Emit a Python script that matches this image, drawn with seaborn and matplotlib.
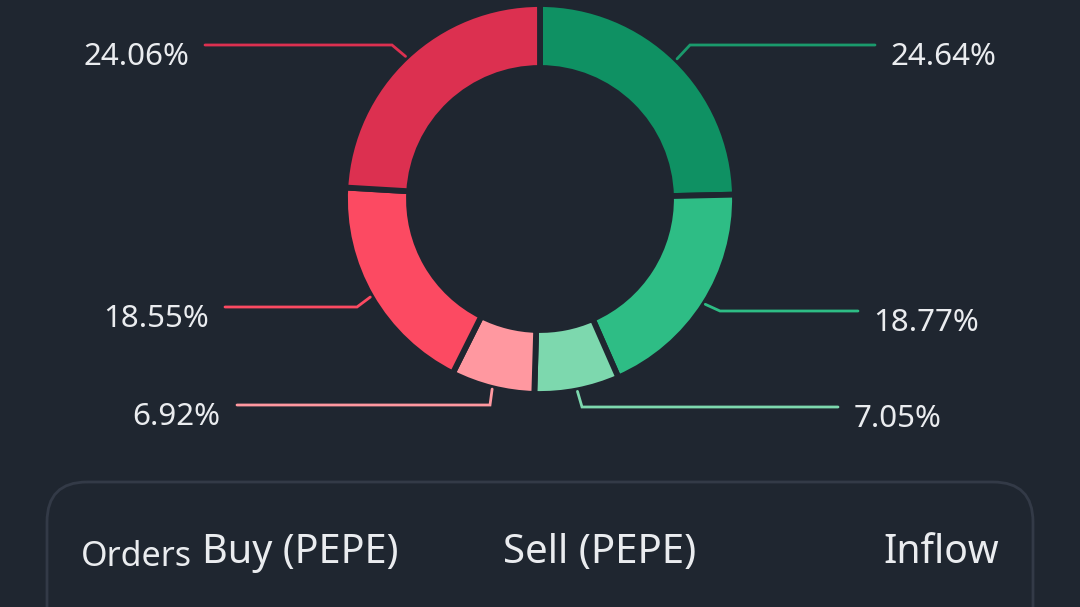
import numpy as np
import matplotlib as mpl
mpl.use('Agg')
import matplotlib.pyplot as plt
from matplotlib.patches import FancyBboxPatch
import seaborn as sns

BG = '#1f2630'
TXT = '#eaecef'

sns.set_theme(style='dark', rc={'figure.facecolor': BG, 'axes.facecolor': BG, 'savefig.facecolor': BG})
plt.rcParams['font.family'] = ['Noto Sans', 'DejaVu Sans']

# clockwise from 12 o'clock
values = [24.64, 18.77, 7.05, 6.92, 18.55, 24.06]
value_labels = ['24.64%', '18.77%', '7.05%', '6.92%', '18.55%', '24.06%']
colors = sns.color_palette(['#0f9163', '#2ebd85', '#7dd8ae', '#ff98a0', '#fc4a62', '#dc3050'])
line_colors = ['#1a9a6c', '#2ebd85', '#7dd8ae', '#ff98a0', '#fc4a62', '#dc3050']

headers = ['Orders', 'Buy (PEPE)', 'Sell (PEPE)', 'Inflow']
header_sizes = [24.5, 28.5, 29, 28.2]

# layout, in pixels of the 1080x607 picture
cx, cy = 540, 199
elbows = [(690, 45), (720, 311), (582, 407), (490, 405), (357, 307), (392, 45)]
line_ends = [(875, 45), (858, 311), (838, 407), (237, 405), (225, 307), (205, 45)]
label_pos = [(891, 65), (873, 331), (854, 427), (220, 425), (209, 327), (189, 65)]
header_pos = [(81, 566, 'left'), (202, 563, 'left'), (503, 563, 'left'), (999, 563, 'right')]

fig = plt.figure(figsize=(10.8, 6.07), dpi=100)
ax = fig.add_axes([0, 0, 1, 1])

# y axis gets flipped below, so counterclock here comes out clockwise on screen
wedges, _ = ax.pie(values, colors=colors, center=(cx, cy), radius=195, startangle=-90, counterclock=True,
	wedgeprops={'width': 64, 'edgecolor': BG, 'linewidth': 4.2})
ax.set_xlim(0, 1080)
ax.set_ylim(607, 0)
ax.set_aspect('equal')
ax.axis('off')

for i, w in enumerate(wedges):
	mid = np.deg2rad((w.theta1 + w.theta2) / 2)
	start = (cx + 196 * np.cos(mid), cy + 196 * np.sin(mid))
	xs = [start[0], elbows[i][0], line_ends[i][0]]
	ys = [start[1], elbows[i][1], line_ends[i][1]]
	ax.plot(xs, ys, color=line_colors[i], lw=2, solid_joinstyle='miter')
	ha = 'left' if label_pos[i][0] > cx else 'right'
	ax.text(label_pos[i][0], label_pos[i][1], value_labels[i], color=TXT, fontsize=22.5, ha=ha, va='baseline')

box = FancyBboxPatch((47, 482), 986, 200, boxstyle='round,pad=0,rounding_size=40',
	facecolor='none', edgecolor='#333a47', lw=2)
ax.add_patch(box)

for (x, y, ha), name, size in zip(header_pos, headers, header_sizes):
	ax.text(x, y, name, color=TXT, fontsize=size, ha=ha, va='baseline')

fig.savefig('out.png', dpi=100)
